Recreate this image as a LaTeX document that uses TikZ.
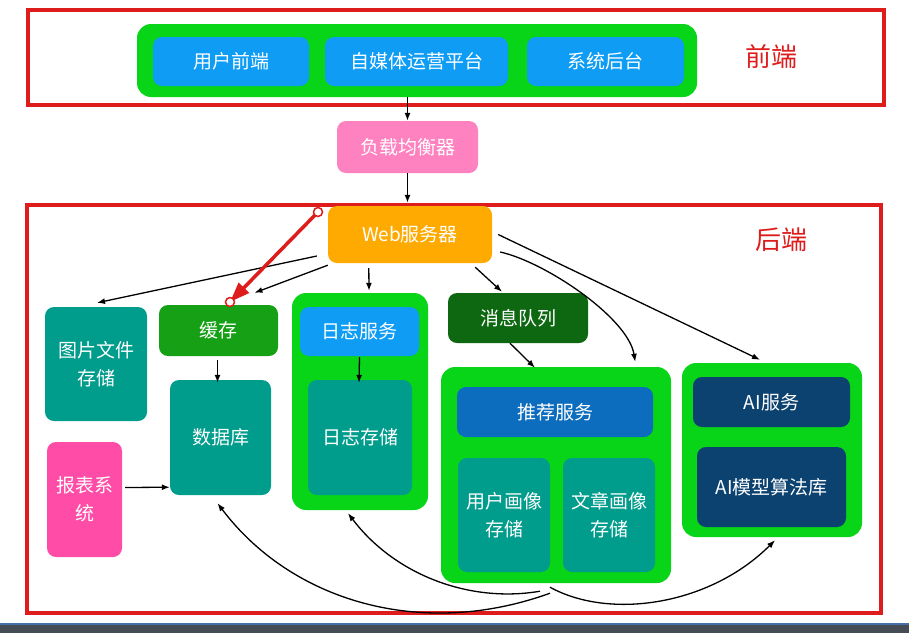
\documentclass[tikz,border=0pt]{standalone}
\usepackage{fontspec}
\setmainfont{Noto Sans CJK SC}
\usetikzlibrary{arrows.meta,calc}
\definecolor{ArchRed}{RGB}{222,28,28}
\definecolor{ArchGreen}{RGB}{8,212,24}
\definecolor{ArchBlue}{RGB}{14,156,244}
\definecolor{ArchPink}{RGB}{255,130,192}
\definecolor{ArchHotPink}{RGB}{255,76,166}
\definecolor{ArchOrange}{RGB}{255,170,0}
\definecolor{ArchTeal}{RGB}{0,156,140}
\definecolor{ArchCache}{RGB}{22,160,22}
\definecolor{ArchDarkGreen}{RGB}{14,104,18}
\definecolor{ArchRecBlue}{RGB}{12,108,190}
\definecolor{ArchNavy}{RGB}{12,66,112}
\definecolor{ArchBar}{RGB}{70,76,86}
\definecolor{ArchBarLine}{RGB}{70,110,170}
\tikzset{
  arch/frame/.style={
    draw=ArchRed,
    line width=3.5pt,
    inner sep=0pt
  },
  arch/group/.style={
    fill=ArchGreen,
    rounded corners=14pt,
    inner sep=0pt
  },
  arch/box/.style={
    rounded corners=9pt,
    inner sep=0pt,
    align=center,
    text=white,
    font=\fontsize{19}{28}\selectfont
  },
  arch/blue/.style={arch/box, fill=ArchBlue},
  arch/pink/.style={arch/box, fill=ArchPink},
  arch/hotpink/.style={arch/box, fill=ArchHotPink},
  arch/orange/.style={arch/box, fill=ArchOrange},
  arch/teal/.style={arch/box, fill=ArchTeal},
  arch/cache/.style={arch/box, fill=ArchCache},
  arch/darkgreen/.style={arch/box, fill=ArchDarkGreen},
  arch/recblue/.style={arch/box, fill=ArchRecBlue},
  arch/navy/.style={arch/box, fill=ArchNavy},
  arch/arrow/.style={-{Latex[length=8pt,width=6pt]}, line width=1.3pt, draw=black},
  arch/title/.style={font=\fontsize{26}{30}\selectfont, text=ArchRed},
  arch/handle/.style={circle, draw=ArchRed, line width=1.5pt, fill=white, minimum size=9pt, inner sep=0pt}
}

\begin{document}
\begin{tikzpicture}[x=1pt,y=-1pt]
  \useasboundingbox (0,0) rectangle (909,633);
  % frontend
  \node[arch/frame,minimum width=856,minimum height=95] (feframe) at (456,57.5) {};
  \node[arch/group,minimum width=560,minimum height=73] (fegroup) at (417,60.5) {};
  \node[arch/blue,minimum width=156,minimum height=49] (userfe) at (231,61.5) {用户前端};
  \node[arch/blue,minimum width=183,minimum height=49] (media) at (416.5,61.5) {自媒体运营平台};
  \node[arch/blue,minimum width=157,minimum height=49] (admin) at (605.5,61.5) {系统后台};
  \node[arch/title] (fetitle) at (771,57) {前端};
  \node[arch/pink,minimum width=141,minimum height=52] (lb) at (407.5,147) {负载均衡器};

  % backend
  \node[arch/frame,minimum width=854,minimum height=408] (beframe) at (454,409) {};
  \node[arch/title] (betitle) at (781,240) {后端};
  \node[arch/orange,minimum width=164,minimum height=57] (web) at (410,234.5) {Web服务器};
  \node[arch/teal,minimum width=102,minimum height=114] (img) at (96,364) {图片文件\\存储};
  \node[arch/cache,minimum width=119,minimum height=51] (cache) at (218.5,330.5) {缓存};
  \node[arch/teal,minimum width=101,minimum height=115] (db) at (220.5,437.5) {数据库};
  \node[arch/hotpink,minimum width=75,minimum height=115] (report) at (84.5,499.5) {报表系\\统};
  \node[arch/group,minimum width=136,minimum height=217] (loggroup) at (360,401.5) {};
  \node[arch/blue,minimum width=119,minimum height=49] (logsvc) at (359.5,331.5) {日志服务};
  \node[arch/teal,minimum width=104,minimum height=115] (logdb) at (360,437.5) {日志存储};
  \node[arch/darkgreen,minimum width=140,minimum height=50] (mq) at (518,318) {消息队列};
  \node[arch/group,minimum width=230,minimum height=216] (recgroup) at (556,475) {};
  \node[arch/recblue,minimum width=196,minimum height=50] (recsvc) at (555,412) {推荐服务};
  \node[arch/teal,minimum width=92,minimum height=114] (userprof) at (504,515) {用户画像\\存储};
  \node[arch/teal,minimum width=92,minimum height=114] (artprof) at (609,515) {文章画像\\存储};
  \node[arch/group,minimum width=180,minimum height=174] (aigroup) at (772,450) {};
  \node[arch/navy,minimum width=157,minimum height=50] (aisvc) at (771.5,402) {AI服务};
  \node[arch/navy,minimum width=149,minimum height=80] (ailib) at (771.5,487) {AI模型算法库};

  % connectors
  \draw[arch/arrow] (fegroup.south -| lb.north) -- (lb.north);
  \draw[arch/arrow] (lb.south) -- ($(lb.south |- web.north)+(0,-3)$);
  \draw[arch/arrow] ($(web.west)+(-11,21.5)$) -- ($(img.north)+(1,-4)$);
  \draw[arch/arrow] ($(web.south west)+(0,2)$) -- ($(cache.north)+(36,-12)$);
  \draw[arch/arrow] ($(web.south west)+(41,5)$) -- ($(loggroup.north)+(9,-2)$);
  \draw[arch/arrow] ($(web.south east)+(-17,4)$) -- ($(mq.north)+(-16,-1)$);
  \draw[arch/arrow] ($(web.east)+(8,17.5)$) .. controls +(45,10) and +(-7,-44) .. ($(recgroup.north east)+(-36,-5)$);
  \draw[arch/arrow] ($(web.east)+(6,0)$) -- ($(aigroup.north)+(-12,-3)$);
  \draw[arch/arrow] ($(mq.south)+(-8,0)$) -- ($(recgroup.north)+(-21,1)$);
  \draw[arch/arrow] ($(cache.south)+(-1,4)$) -- ($(db.north)+(-3,3)$);
  \draw[arch/arrow] ($(logsvc.south)+(0,1)$) -- ($(logdb.north)+(-1,3)$);
  \draw[arch/arrow] ($(report.east)+(3,-12)$) -- ($(db.south west)+(0,-8)$);
  \draw[arch/arrow] ($(recgroup.south)+(-6,10)$) .. controls +(-130,47) and +(73,97) .. ($(db.south)+(-3,8)$);
  \draw[arch/arrow] ($(recgroup.south)+(-16,8)$) .. controls +(-70,12) and +(47,62) .. ($(loggroup.south)+(-12,3)$);
  \draw[arch/arrow] ($(recgroup.south)+(-6,4)$) .. controls +(60,33) and +(-65,65) .. ($(aigroup.south)+(3,3)$);

  % red mark
  \coordinate (marktop) at (318,212);
  \coordinate (markend) at (230,302);
  \draw[-{Triangle[length=20pt,width=14pt]}, ArchRed, line width=3.5pt] (marktop) -- (markend);
  \node[arch/handle] (handletop) at (marktop) {};
  \node[arch/handle] (handleend) at (markend) {};

  % bottom bar
  \fill[ArchBar] (0,624) rectangle (909,633);
  \draw[ArchBarLine, line width=1.5pt] (0,624) -- (909,624);
\end{tikzpicture}
\end{document}
